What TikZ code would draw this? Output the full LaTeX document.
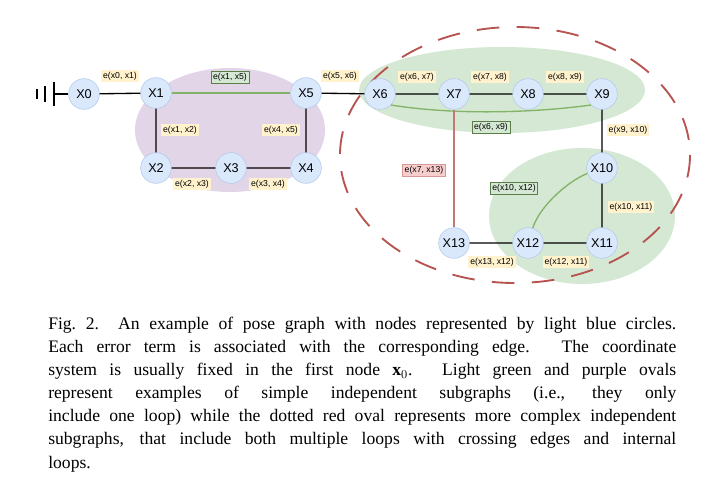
\documentclass[tikz,border=0pt]{standalone}
\usepackage{fontspec}
\setmainfont{Liberation Serif}
\newfontfamily\lsans{Liberation Sans}
\definecolor{nblue}{HTML}{DAE8FC}
\definecolor{nbd}{HTML}{B0C8E8}
\definecolor{purp}{HTML}{E1D5E7}
\definecolor{gfill}{HTML}{D5E8D4}
\definecolor{gline}{HTML}{82B366}
\definecolor{ylw}{HTML}{FFF2CC}
\definecolor{rfill}{HTML}{F8CECC}
\definecolor{rline}{HTML}{B85450}
\begin{document}
\begin{tikzpicture}[x=0.75pt,y=-0.75pt,
 nd/.style={circle,fill=nblue,draw=nbd,minimum size=23pt,inner sep=0pt,font=\lsans\fontsize{9.5}{11}\selectfont},
 lb/.style={fill=ylw,inner sep=1.5pt,font=\lsans\fontsize{6.5}{7}\selectfont},
 glb/.style={fill=gfill,draw=gline!70!black,inner sep=1.5pt,font=\lsans\fontsize{6.5}{7}\selectfont},
 rlb/.style={fill=rfill,draw=rline!60,inner sep=1.5pt,font=\lsans\fontsize{6.5}{7}\selectfont},
 ed/.style={line width=1pt}]
\useasboundingbox (0,0) rectangle (720,488);
\fill[white] (0,0) rectangle (720,488);
\fill[purp] (230,130) ellipse [x radius=95, y radius=62];
\fill[gfill] (502,90) ellipse [x radius=143, y radius=43];
\fill[gfill] (582,216) ellipse [x radius=93, y radius=68];
\draw[rline,line width=1.4pt,dash pattern=on 17pt off 13pt] (515,155) ellipse [x radius=175, y radius=128];
\foreach \n/\x/\y in {X0/84/94,X1/156/93,X5/306/93,X2/156/168,X3/231/168,X4/306/168,X6/380/94,X7/454/94,X8/528/94,X9/602/94,X10/602/168,X11/602/243,X12/528/243,X13/454/243}
  \node[nd] (\n) at (\x,\y) {\n};
\coordinate (g) at (54,94);
\draw[ed] (g) -- (X0);
\draw[line width=2pt] (54,82) -- (54,106);
\draw[line width=2pt] (45,86) -- (45,102);
\draw[line width=2pt] (37,89) -- (37,99);
\draw[ed] (X0)--(X1) (X1)--(X2) (X2)--(X3) (X3)--(X4) (X4)--(X5) (X5)--(X6) (X6)--(X7) (X7)--(X8) (X8)--(X9) (X9)--(X10) (X10)--(X11) (X11)--(X12) (X12)--(X13);
\draw[gline,line width=1pt] (X1)--(X5);
\draw[gline,line width=1pt] (X6.south east) .. controls (460,116) and (540,112) .. (X9.south west);
\draw[gline,line width=1pt] (X12) .. controls (540,205) and (570,180) .. (X10);
\draw[rline!80,line width=1pt] (X7)--(X13);
\node[lb] (l01) at (120,76) {e(x0, x1)};
\node[glb] (l15) at (230,77) {e(x1, x5)};
\node[lb] (l56) at (340,76) {e(x5, x6)};
\node[lb] (l12) at (180,130) {e(x1, x2)};
\node[lb] (l45) at (281,130) {e(x4, x5)};
\node[lb] (l23) at (192,184) {e(x2, x3)};
\node[lb] (l34) at (268,184) {e(x3, x4)};
\node[lb] (l67) at (417,77) {e(x6, x7)};
\node[lb] (l78) at (490,77) {e(x7, x8)};
\node[lb] (l89) at (565,77) {e(x8, x9)};
\node[glb] (l69) at (491,127) {e(x6, x9)};
\node[lb] (l910) at (628,130) {e(x9, x10)};
\node[rlb] (l713) at (424,170) {e(x7, x13)};
\node[glb] (l1012) at (514,188) {e(x10, x12)};
\node[lb] (l1011) at (631,207) {e(x10, x11)};
\node[lb] (l1312) at (492,262) {e(x13, x12)};
\node[lb] (l1211) at (566,262) {e(x12, x11)};
\node[anchor=north west,text width=471pt,align=justify,inner sep=0pt,font=\fontsize{13.2}{17.3}\selectfont] (cap) at (48,317) {Fig.~2.\ \ An example of pose graph with nodes represented by light blue circles.\linebreak Each error term is associated with the corresponding edge. The coordinate\linebreak system is usually fixed in the first node $\mathbf{x}_0$. Light green and purple ovals\linebreak represent examples of simple independent subgraphs (i.e., they only\linebreak include one loop) while the dotted red oval represents more complex independent\linebreak subgraphs, that include both multiple loops with crossing edges and internal\linebreak loops.};
\end{tikzpicture}
\end{document}
